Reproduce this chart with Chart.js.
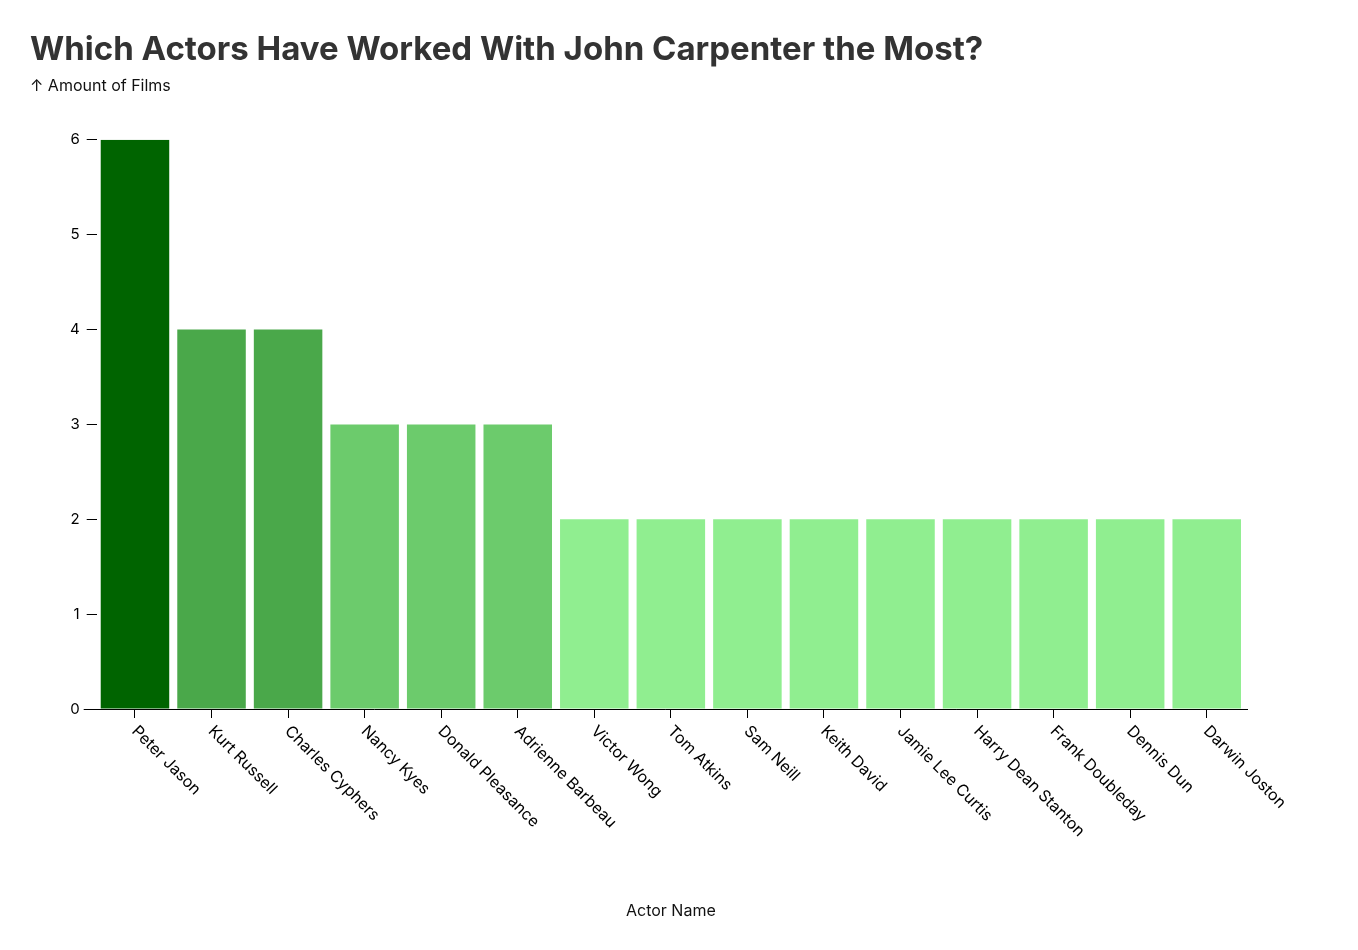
<!DOCTYPE html>
<html>
<head>
<meta charset="utf-8">
<script src="https://cdn.jsdelivr.net/npm/chart.js@4"></script>
<style>
  html, body { margin: 0; padding: 0; background: #fff; }
  #wrap { width: 1358px; height: 950px; position: relative; }
</style>
</head>
<body>
<div id="wrap"><canvas id="c"></canvas></div>
<script>
const actors = ["Peter Jason", "Kurt Russell", "Charles Cyphers", "Nancy Kyes", "Donald Pleasance", "Adrienne Barbeau", "Victor Wong", "Tom Atkins", "Sam Neill", "Keith David", "Jamie Lee Curtis", "Harry Dean Stanton", "Frank Doubleday", "Dennis Dun", "Darwin Joston"];
const films = [6, 4, 4, 3, 3, 3, 2, 2, 2, 2, 2, 2, 2, 2, 2];
const yTicks = [0, 1, 2, 3, 4, 5, 6];
const colorByCount = { 6: "#006400", 4: "#4aa84a", 3: "#6ccb6c", 2: "#90ee90" };

const FONT = "Inter, 'Noto Sans', sans-serif";

const customDraw = {
  id: 'customDraw',
  afterDraw(chart) {
    const ctx = chart.ctx;
    const x = chart.scales.x, y = chart.scales.y;
    const y0 = y.getPixelForValue(0);
    ctx.save();
    // x axis line
    ctx.strokeStyle = '#000';
    ctx.lineWidth = 1;
    ctx.beginPath();
    ctx.moveTo(chart.chartArea.left - 13, Math.round(y0) + 0.5);
    ctx.lineTo(chart.chartArea.right + 3, Math.round(y0) + 0.5);
    ctx.stroke();
    // rotated category labels
    ctx.fillStyle = '#000';
    ctx.font = '16px ' + FONT;
    ctx.textAlign = 'left';
    ctx.textBaseline = 'top';
    actors.forEach((name, i) => {
      const px = x.getPixelForValue(i);
      ctx.save();
      ctx.translate(px + 5, y0 + 14);
      ctx.rotate(Math.PI / 4);
      ctx.fillText(name, 0, 0);
      ctx.restore();
    });
    ctx.restore();
  }
};

new Chart(document.getElementById('c'), {
  type: 'bar',
  data: {
    labels: actors,
    datasets: [{
      data: films,
      backgroundColor: films.map(v => colorByCount[v]),
      borderWidth: 0,
      barPercentage: 0.895,
      categoryPercentage: 1.0
    }]
  },
  plugins: [customDraw],
  options: {
    responsive: true,
    maintainAspectRatio: false,
    animation: false,
    devicePixelRatio: 1,
    layout: { padding: { left: 30, right: 113, top: 0, bottom: 0 } },
    plugins: {
      legend: { display: false },
      tooltip: { enabled: false },
      title: {
        display: true,
        text: 'Which Actors Have Worked With John Carpenter the Most?',
        align: 'start',
        color: '#333',
        font: { family: FONT, size: 33, weight: 'bold', lineHeight: 1.2 },
        padding: { top: 30, bottom: 7 }
      },
      subtitle: {
        display: true,
        text: '↑ Amount of Films',
        align: 'start',
        color: '#111',
        font: { family: FONT, size: 16, lineHeight: 1.2 },
        padding: { top: 0, bottom: 44 }
      }
    },
    scales: {
      x: {
        type: 'category',
        offset: true,
        grid: { display: true, drawOnChartArea: false, drawTicks: true, tickLength: 9, color: '#000', offset: false },
        border: { display: false },
        ticks: { display: false },
        title: {
          display: true,
          text: 'Actor Name',
          color: '#111',
          font: { family: FONT, size: 16, lineHeight: 1.2 },
          padding: { top: 0, bottom: 29 }
        },
        afterFit(scale) { scale.height = 241; }
      },
      y: {
        min: 0,
        max: 6,
        afterBuildTicks(scale) { scale.ticks = yTicks.map(v => ({ value: v })); },
        grid: { display: true, drawOnChartArea: false, drawTicks: true, tickLength: 10, color: '#000' },
        border: { display: false },
        ticks: { color: '#000', font: { family: FONT, size: 15 }, padding: 7 },
        afterFit(scale) { scale.width = 66.7; }
      }
    }
  }
});
</script>
</body>
</html>
